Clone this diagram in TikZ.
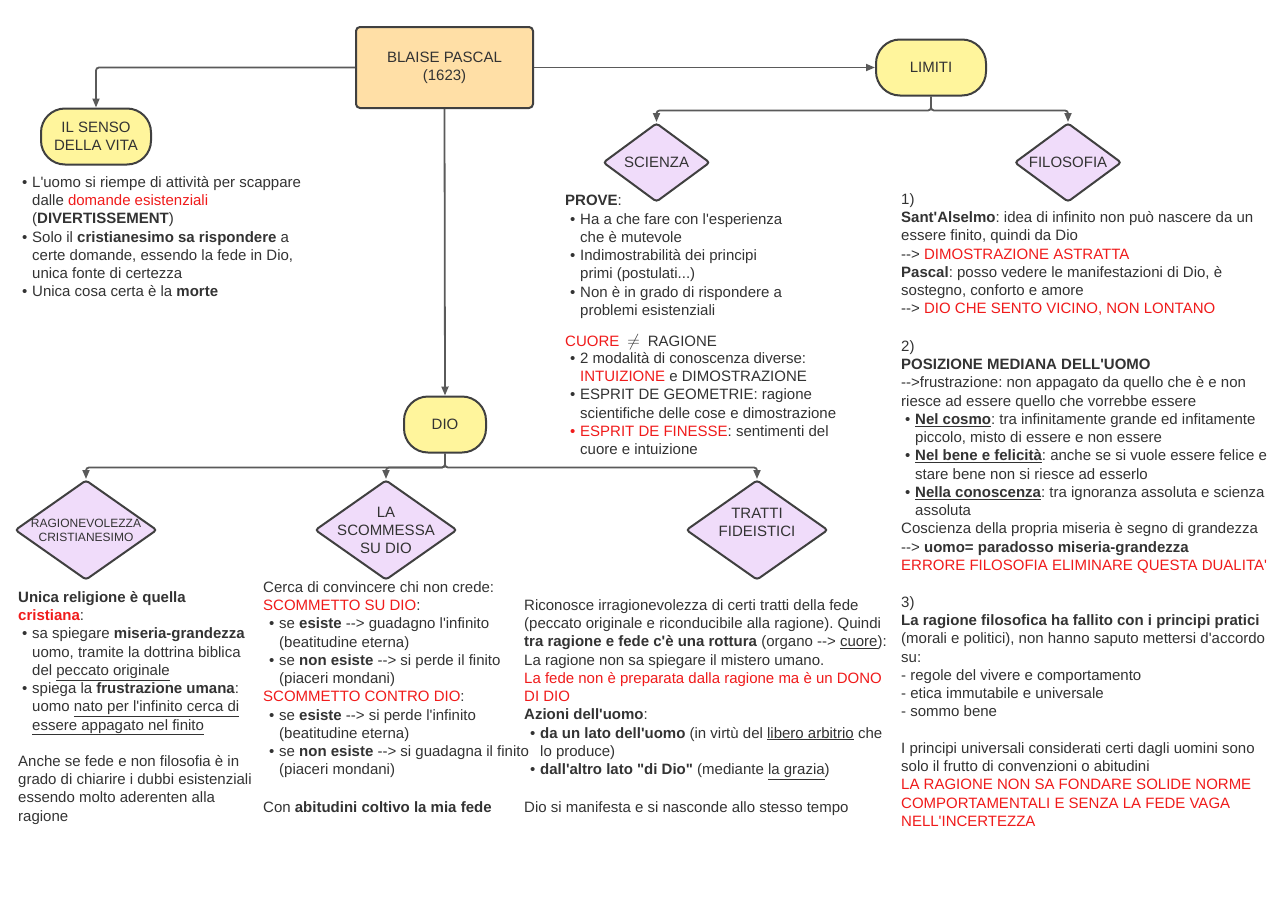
\documentclass[tikz,border=0pt]{standalone}
\usepackage{fontspec}
\setmainfont{Liberation Sans}[Ligatures=TeXOff]
\usepackage{tikz}
\usetikzlibrary{calc,shapes.geometric,arrows.meta}
\definecolor{cTesto}{HTML}{333333}
\definecolor{cBordo}{HTML}{404040}
\definecolor{cLinea}{HTML}{5A5A5A}
\definecolor{cRosso}{HTML}{F01B1B}
\definecolor{cArancio}{HTML}{FFDFA6}
\definecolor{cGiallo}{HTML}{FFF59C}
\definecolor{cLilla}{HTML}{F0DCFA}
\newcommand{\rs}[1]{\textcolor{cRosso}{#1}}
\newcommand{\freccia}{-\kern0pt-\kern0pt>}
\newcommand{\pnt}[1][4pt]{\hspace*{#1}\makebox[10pt][l]{\textbullet}}
\newcommand{\rie}[1][14pt]{\hspace*{#1}}
\frenchspacing
\tikzset{
  scatola/.style={draw=cBordo, line width=2pt, fill=cArancio, rounded corners=4pt, minimum width=177pt, minimum height=81pt, align=center, text=cTesto, font=\fontsize{15}{18}\selectfont},
  capsula/.style={draw=cBordo, line width=2pt, fill=cGiallo, rounded corners=24pt, minimum width=110pt, minimum height=56pt, align=center, text=cTesto, font=\fontsize{15}{18}\selectfont},
  rombo/.style={diamond, draw=cBordo, line width=2pt, fill=cLilla, rounded corners=3pt, inner sep=0pt, minimum width=142pt, minimum height=100pt},
  etichetta/.style={text=cTesto, align=center, inner sep=0pt, font=\fontsize{15}{18}\selectfont},
  blocco/.style={text=cTesto, align=left, inner sep=0pt, anchor=north west, yshift=12.775pt, font=\fontsize{15}{18.25}\selectfont, execute at begin node=\strut},
  conn/.style={draw=cLinea, line width=1.8pt, rounded corners=3pt, -{Triangle[width=7pt,length=9pt]}}
}
\begin{document}
\begin{tikzpicture}[x=1pt,y=-1pt]
\path [use as bounding box, fill=white] (0,0) rectangle (1280,905);

\node [scatola] (pascal) at (444.5,67.5) {BLAISE PASCAL\\(1623)};
\node [capsula] (senso) at (96,136.5) {IL SENSO\\DELLA VITA};
\node [capsula] (limiti) at (931,67.5) {LIMITI};
\node [capsula, minimum width=82pt] (dio) at (445,424.5) {DIO};

\node [rombo, minimum width=107pt, minimum height=79pt] (scienza) at (656.5,162.5) {};
\node [etichetta] (scienza-t) at (scienza) {SCIENZA};
\node [rombo, minimum width=107pt, minimum height=79pt] (filosofia) at (1068,162.5) {};
\node [etichetta] (filosofia-t) at (filosofia) {FILOSOFIA};
\node [rombo] (ragion) at (86,530) {};
\node [etichetta, font=\fontsize{12}{14}\selectfont] (ragion-t) at (ragion) {RAGIONEVOLEZZA\\CRISTIANESIMO};
\node [rombo] (scommessa) at (386,530) {};
\node [etichetta] (scommessa-t) at (scommessa) {LA\\SCOMMESSA\\SU DIO};
\node [rombo] (tratti) at (757,530) {};
\node [etichetta, yshift=8pt] (tratti-t) at (tratti) {TRATTI\\FIDEISTICI};

\draw [conn] (pascal.west) -| (senso.north);
\draw [conn] (pascal.east) -- (limiti.west);
\draw [conn] (pascal.south) -- (dio.north);
\draw [conn] (limiti.south) -- ++(0,14) -| (scienza.north);
\draw [conn] (limiti.south) -- ++(0,14) -| (filosofia.north);
\draw [conn] (dio.south) -- ++(0,14) -| (ragion.north);
\draw [conn] (dio.south) -- ++(0,14) -| (scommessa.north);
\draw [conn] (dio.south) -- ++(0,14) -| (tratti.north);

\node [blocco] (senso-b) at (22,189) {\pnt[0pt]L'uomo si riempe di attività per scappare\\
\rie[10pt]dalle \rs{domande esistenziali}\\
\rie[10pt](\textbf{DIVERTISSEMENT})\\
\pnt[0pt]Solo il \textbf{cristianesimo sa rispondere} a\\
\rie[10pt]certe domande, essendo la fede in Dio,\\
\rie[10pt]unica fonte di certezza\\
\pnt[0pt]Unica cosa certa è la \textbf{morte}};

\node [blocco] (scienza-b) at (565,208) {\textbf{PROVE}:\\
\pnt[5pt]Ha a che fare con l'esperienza\\
\rie[15pt]che è mutevole\\
\pnt[5pt]Indimostrabilità dei principi\\
\rie[15pt]primi (postulati...)\\
\pnt[5pt]Non è in grado di rispondere a\\
\rie[15pt]problemi esistenziali};
\node [blocco] (cuore-b) at (565,346) {\rs{CUORE}\hspace{8pt}{\fontsize{19}{19}\selectfont$\neq$}\hspace{8pt}RAGIONE};
\node [blocco] (esprit-b) at (565,365) {\pnt[5pt]2 modalità di conoscenza diverse:\\
\rie[15pt]\rs{INTUIZIONE} e DIMOSTRAZIONE\\
\pnt[5pt]ESPRIT DE GEOMETRIE: ragione\\
\rie[15pt]scientifiche delle cose e dimostrazione\\
\rs{\pnt[5pt]ESPRIT DE FINESSE}: sentimenti del\\
\rie[15pt]cuore e intuizione};

\node [blocco] (fil-a) at (901,206) {1)\\
\textbf{Sant'Alselmo}: idea di infinito non può nascere da un\\
essere finito, quindi da Dio\\
\freccia\ \rs{DIMOSTRAZIONE ASTRATTA}\\
\textbf{Pascal}: posso vedere le manifestazioni di Dio, è\\
sostegno, conforto e amore\\
\freccia\ \rs{DIO CHE SENTO VICINO, NON LONTANO}};
\node [blocco] (fil-b) at (901,353) {2)\\
\textbf{POSIZIONE MEDIANA DELL'UOMO}\\
\freccia frustrazione: non appagato da quello che è e non\\
riesce ad essere quello che vorrebbe essere\\
\pnt\textbf{\underline{Nel cosmo}}: tra infinitamente grande ed infitamente\\
\rie piccolo, misto di essere e non essere\\
\pnt\textbf{\underline{Nel bene e felicità}}: anche se si vuole essere felice e\\
\rie stare bene non si riesce ad esserlo\\
\pnt\textbf{\underline{Nella conoscenza}}: tra ignoranza assoluta e scienza\\
\rie assoluta\\
Coscienza della propria miseria è segno di grandezza\\
\freccia\ \textbf{uomo= paradosso miseria-grandezza}\\
\rs{ERRORE FILOSOFIA ELIMINARE QUESTA DUALITA'}};
\node [blocco] (fil-c) at (901,609) {3)\\
\textbf{La ragione filosofica ha fallito con i principi pratici}\\
(morali e politici), non hanno saputo mettersi d'accordo\\
su:\\
- regole del vivere e comportamento\\
- etica immutabile e universale\\
- sommo bene};
\node [blocco] (fil-d) at (901,755) {I principi universali considerati certi dagli uomini sono\\
solo il frutto di convenzioni o abitudini\\
\rs{LA RAGIONE NON SA FONDARE SOLIDE NORME}\\
\rs{COMPORTAMENTALI E SENZA LA FEDE VAGA}\\
\rs{NELL'INCERTEZZA}};

\node [blocco] (ragion-b) at (18,604) {\textbf{Unica religione è quella}\\
\textbf{\rs{cristiana}}:\\
\pnt sa spiegare \textbf{miseria-grandezza}\\
\rie uomo, tramite la dottrina biblica\\
\rie del \underline{peccato originale}\\
\pnt spiega la \textbf{frustrazione umana}:\\
\rie uomo \underline{nato per l'infinito cerca di}\\
\rie\underline{essere appagato nel finito}};
\node [blocco] (ragion-c) at (18,768) {Anche se fede e non filosofia è in\\
grado di chiarire i dubbi esistenziali\\
essendo molto aderenten alla\\
ragione};

\node [blocco] (scommessa-b) at (263,594) {Cerca di convincere chi non crede:\\
\rs{SCOMMETTO SU DIO}:\\
\pnt[6pt]se \textbf{esiste} \freccia\ guadagno l'infinito\\
\rie[16pt](beatitudine eterna)\\
\pnt[6pt]se \textbf{non esiste} \freccia\ si perde il finito\\
\rie[16pt](piaceri mondani)\\
\rs{SCOMMETTO CONTRO DIO}:\\
\pnt[6pt]se \textbf{esiste} \freccia\ si perde l'infinito\\
\rie[16pt](beatitudine eterna)\\
\pnt[6pt]se \textbf{non esiste} \freccia\ si guadagna il finito\\
\rie[16pt](piaceri mondani)};
\node [blocco] (scommessa-c) at (263,812) {Con \textbf{abitudini coltivo la mia fede}};

\node [blocco] (tratti-b) at (524,612) {Riconosce irragionevolezza di certi tratti della fede\\
(peccato originale e riconducibile alla ragione). Quindi\\
\textbf{tra ragione e fede c'è una rottura} (organo \freccia\ \underline{cuore}):\\
La ragione non sa spiegare il mistero umano.\\
\rs{La fede non è preparata dalla ragione ma è un DONO}\\
\rs{DI DIO}\\
\textbf{Azioni dell'uomo}:\\
\pnt[6pt]\textbf{da un lato dell'uomo} (in virtù del \underline{libero arbitrio} che\\
\rie[16pt]lo produce)\\
\pnt[6pt]\textbf{dall'altro lato "di Dio"} (mediante \underline{la grazia})};
\node [blocco] (tratti-c) at (524,812) {Dio si manifesta e si nasconde allo stesso tempo};
\end{tikzpicture}
\end{document}
